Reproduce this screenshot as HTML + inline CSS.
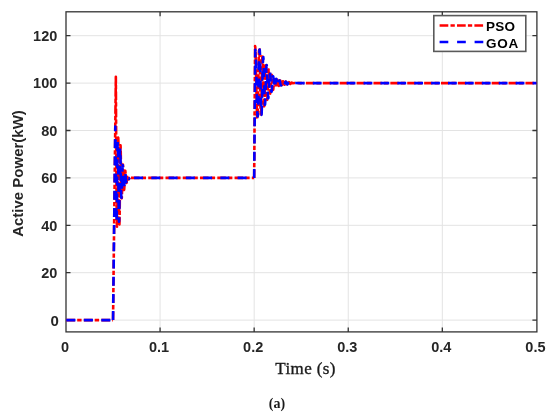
<!DOCTYPE html>
<html><head><meta charset="utf-8"><style>
html,body{margin:0;padding:0;background:#fff;}
body{width:550px;height:417px;overflow:hidden;}
svg{display:block;}
.ys{font-family:"Liberation Sans",Arial,sans-serif;font-weight:bold;font-size:14.5px;fill:#262626;text-anchor:end;}
.xs{font-family:"Liberation Sans",Arial,sans-serif;font-weight:bold;font-size:14.5px;fill:#262626;text-anchor:middle;}
.data path{fill:none;stroke-width:2.6;stroke-linejoin:round;}
</style></head><body>
<svg width="550" height="417" viewBox="0 0 550 417">
<defs><clipPath id="ax"><rect x="66.00" y="11.80" width="470.90" height="320.10"/></clipPath></defs>
<rect width="550" height="417" fill="#fff"/>
<path d="M160.08,11.80V331.90M254.16,11.80V331.90M348.24,11.80V331.90M442.32,11.80V331.90M66.00,320.10H536.90M66.00,272.70H536.90M66.00,225.30H536.90M66.00,177.90H536.90M66.00,130.50H536.90M66.00,83.10H536.90M66.00,35.70H536.90" stroke="#e3e3e3" stroke-width="1" fill="none"/>
<path d="M160.08,331.90v-4.5M160.08,11.80v4.5M254.16,331.90v-4.5M254.16,11.80v4.5M348.24,331.90v-4.5M348.24,11.80v4.5M442.32,331.90v-4.5M442.32,11.80v4.5M66.00,320.10h4.5M536.90,320.10h-4.5M66.00,272.70h4.5M536.90,272.70h-4.5M66.00,225.30h4.5M536.90,225.30h-4.5M66.00,177.90h4.5M536.90,177.90h-4.5M66.00,130.50h4.5M536.90,130.50h-4.5M66.00,83.10h4.5M536.90,83.10h-4.5M66.00,35.70h4.5M536.90,35.70h-4.5" stroke="#333" stroke-width="1.3" fill="none"/>
<rect x="66.00" y="11.80" width="470.90" height="320.10" stroke="#333" stroke-width="1.3" fill="none"/>
<g class="data" clip-path="url(#ax)">
<path d="M66.00,320.10H113.04" stroke="#ff0000" stroke-dasharray="8.65 2.24 4.38 2.24" stroke-dashoffset="17.20"/>
<path d="M113.04,320.10L115.85,76.80L115.86,79.55L115.96,98.41L116.03,112.96L116.11,126.82L116.18,139.97L116.26,152.45L116.33,164.28L116.41,175.45L116.47,184.64L116.54,193.21L116.60,199.97L116.65,206.14L116.71,211.62L116.76,215.62L116.80,219.06L116.85,221.89L116.90,224.09L116.94,225.63L116.99,226.49L117.04,226.66L117.09,226.14L117.13,224.94L117.18,223.08L117.23,220.58L117.27,217.50L117.33,213.07L117.39,207.96L117.45,201.27L117.54,191.85L117.71,172.03L117.78,163.63L117.85,156.88L117.90,151.69L117.96,147.19L118.01,144.03L118.05,141.46L118.10,139.53L118.15,138.25L118.20,137.66L118.24,137.75L118.29,138.53L118.34,139.99L118.38,142.09L118.43,144.81L118.48,148.11L118.53,152.74L118.59,158.01L118.66,164.82L118.76,176.43L118.89,191.58L118.97,199.76L119.03,206.32L119.09,211.32L119.15,215.63L119.19,218.63L119.24,221.03L119.29,222.81L119.33,223.93L119.38,224.38L119.43,224.15L119.48,223.24L119.52,221.68L119.57,219.48L119.62,216.68L119.67,212.59L119.73,207.80L119.79,201.46L119.87,193.49L120.06,172.21L120.13,164.07L120.19,158.41L120.24,154.67L120.28,151.54L120.33,149.04L120.38,147.16L120.43,145.92L120.47,145.30L120.52,145.28L120.57,145.82L120.62,147.16L120.68,149.19L120.75,152.30L120.82,156.65L120.91,162.91L121.10,176.36L121.20,182.66L121.27,187.14L121.35,190.97L121.41,193.71L121.48,195.83L121.54,197.29L121.61,198.10L121.68,198.27L121.76,198.03L121.84,197.15L121.91,195.57L122.00,193.10L122.10,189.27L122.39,176.54L122.50,172.40L122.59,169.23L122.67,167.00L122.75,165.61L122.82,164.79L122.90,164.57L122.98,165.02L123.07,166.16L123.16,168.13L123.28,171.26L123.58,181.22L123.69,184.58L123.79,187.07L123.89,188.71L123.97,189.60L124.06,189.92L124.15,189.60L124.24,188.62L124.35,186.89L124.49,183.71L124.76,176.63L124.88,174.10L124.98,172.33L125.08,171.18L125.19,170.67L125.29,170.79L125.41,171.65L125.55,173.40L125.91,179.19L126.06,181.23L126.19,182.45L126.32,183.05L126.47,183.00L126.62,182.25L126.85,180.12L127.13,177.25L127.30,176.02L127.47,175.41L127.65,175.44L127.90,176.35L128.30,178.48L128.54,179.28L128.79,179.41L129.20,178.51L129.60,177.50L129.94,177.23L129.97,177.25" stroke="#ff0000" stroke-dasharray="8.50 2.20 4.30 2.20" stroke-dashoffset="0.00"/>
<path d="M129.97,177.90H254.16" stroke="#ff0000" stroke-dasharray="8.53 2.21 4.32 2.21" stroke-dashoffset="16.29"/>
<path d="M254.16,177.90L255.10,46.13L255.20,46.51L255.31,47.54L255.41,49.23L255.51,51.57L255.62,54.53L255.73,58.42L255.85,63.34L255.99,69.76L256.18,79.19L256.46,93.38L256.60,100.30L256.72,105.75L256.82,109.79L256.93,113.20L257.02,115.66L257.11,117.46L257.20,118.45L257.28,118.84L257.37,118.59L257.45,117.72L257.54,116.21L257.62,114.10L257.72,111.07L257.81,107.39L257.91,102.67L258.04,96.37L258.21,86.23L258.43,73.61L258.56,66.41L258.67,61.30L258.76,57.24L258.85,54.14L258.93,51.66L259.01,49.84L259.09,48.82L259.17,48.40L259.24,48.57L259.32,49.34L259.39,50.71L259.48,52.93L259.56,55.83L259.65,59.78L259.76,64.89L259.88,71.72L260.21,91.87L260.33,98.95L260.44,104.34L260.52,108.18L260.60,111.42L260.68,113.71L260.75,115.24L260.82,116.15L260.90,116.40L260.97,115.99L261.05,114.93L261.12,113.27L261.21,110.70L261.29,107.48L261.39,103.24L261.50,97.42L261.84,78.03L261.96,71.44L262.06,66.48L262.16,62.61L262.24,59.77L262.33,57.60L262.40,56.27L262.48,55.54L262.55,55.41L262.63,55.88L262.71,57.09L262.80,59.00L262.88,61.53L262.98,64.99L263.09,69.86L263.28,79.03L263.46,88.41L263.59,94.00L263.69,98.14L263.78,101.27L263.87,103.50L263.95,105.10L264.04,106.06L264.12,106.34L264.21,105.94L264.29,104.89L264.38,103.22L264.47,100.72L264.57,97.30L264.71,92.16L265.01,79.19L265.14,73.93L265.24,70.33L265.34,67.62L265.43,65.52L265.52,64.23L265.60,63.52L265.68,63.41L265.77,63.90L265.86,65.11L265.96,66.97L266.06,69.67L266.18,73.57L266.55,87.13L266.68,91.60L266.79,94.84L266.90,97.19L266.99,98.72L267.09,99.63L267.18,99.88L267.27,99.49L267.37,98.47L267.47,96.69L267.59,94.07L267.73,90.05L268.04,80.07L268.17,76.24L268.28,73.49L268.38,71.53L268.49,70.19L268.59,69.51L268.70,69.49L268.80,70.12L268.91,71.48L269.03,73.63L269.19,77.22L269.51,85.33L269.66,88.72L269.80,91.09L269.92,92.65L270.03,93.47L270.14,93.66L270.27,93.17L270.40,91.92L270.55,89.73L271.01,80.85L271.17,78.12L271.31,76.29L271.44,75.19L271.57,74.76L271.71,75.00L271.85,75.95L272.01,77.76L272.49,85.21L272.66,87.48L272.81,88.94L272.95,89.70L273.09,89.84L273.24,89.29L273.41,87.95L273.65,85.08L273.95,81.18L274.14,79.21L274.30,78.10L274.46,77.63L274.62,77.82L274.80,78.75L275.04,80.85L275.39,84.59L275.60,86.29L275.78,87.18L275.96,87.43L276.15,86.98L276.37,85.67L276.85,81.80L277.08,80.41L277.28,79.78L277.47,79.79L277.70,80.51L278.35,84.49L278.58,85.55L278.80,85.94L279.03,85.68L279.30,84.59L279.79,81.85L280.04,80.88L280.28,80.60L280.52,81.00L280.91,82.66L281.28,84.46L281.54,85.17L281.78,85.25L282.06,84.61L282.68,82.04L282.96,81.29L283.22,81.22L283.53,81.90L284.11,84.02L284.41,84.68L284.69,84.68L285.06,83.85L285.56,82.24L285.88,81.71L286.20,81.86L287.01,83.88L287.35,84.30L287.71,84.05L288.44,82.43L288.81,82.07L289.21,82.41L289.89,83.71L290.28,83.98L290.76,83.51L291.27,82.73L291.78,82.64L292.74,83.27L294.52,83.02L300.25,83.10L303.08,83.10" stroke="#ff0000" stroke-dasharray="8.50 2.20 4.30 2.20" stroke-dashoffset="0.00"/>
<path d="M303.08,83.10H536.40" stroke="#ff0000" stroke-dasharray="8.35 2.16 4.22 2.16" stroke-dashoffset="14.08"/>
<path d="M66.00,320.10H113.04" stroke="#0000ff" stroke-dasharray="9.16 8.34" stroke-dashoffset="17.20"/>
<path d="M113.04,320.10L115.29,126.57L115.30,129.32L115.34,130.81L115.39,132.88L115.45,136.08L115.50,139.99L115.56,144.53L115.63,150.49L115.70,158.00L115.82,170.19L115.96,185.79L116.04,194.71L116.11,201.14L116.17,206.94L116.23,211.32L116.29,215.07L116.34,218.11L116.39,220.07L116.44,221.49L116.48,222.33L116.53,222.60L116.58,222.30L116.62,221.42L116.67,219.98L116.73,217.55L116.78,214.40L116.84,210.58L116.91,205.41L116.98,198.70L117.08,189.51L117.25,172.23L117.33,164.05L117.40,158.23L117.46,153.06L117.52,149.26L117.57,146.12L117.63,143.70L117.68,142.27L117.73,141.40L117.77,141.10L117.82,141.38L117.87,142.22L117.91,143.63L117.97,146.02L118.03,149.13L118.08,152.91L118.15,158.04L118.22,164.70L118.32,173.85L118.49,191.04L118.57,199.16L118.64,204.94L118.69,209.37L118.75,213.23L118.81,216.45L118.86,218.94L118.91,220.43L118.96,221.37L119.00,221.74L119.05,221.54L119.10,220.77L119.15,219.43L119.20,217.12L119.26,214.08L119.32,210.37L119.38,205.30L119.46,198.70L119.55,189.60L119.72,172.42L119.80,164.25L119.85,160.37L119.91,156.42L119.96,153.20L120.02,150.73L120.08,149.03L120.13,148.08L120.19,147.85L120.25,148.32L120.30,149.44L120.37,151.47L120.43,154.18L120.51,157.97L120.61,164.01L120.82,177.09L120.91,182.66L121.00,187.11L121.07,190.49L121.15,193.23L121.22,195.28L121.30,196.61L121.38,197.61L121.46,197.87L121.54,197.45L121.61,196.41L121.70,194.54L121.79,191.74L121.91,187.28L122.17,176.92L122.28,172.74L122.37,169.79L122.46,167.69L122.54,166.18L122.63,165.32L122.71,165.12L122.80,165.57L122.89,166.77L122.99,168.82L123.12,172.00L123.42,181.17L123.54,184.50L123.64,186.79L123.75,188.44L123.84,189.32L123.93,189.58L124.03,189.23L124.13,188.18L124.25,186.20L124.41,182.76L124.63,177.59L124.76,174.92L124.88,173.19L124.99,172.06L125.10,171.57L125.22,171.72L125.36,172.57L125.53,174.53L125.85,178.77L126.02,180.60L126.17,181.66L126.32,182.11L126.48,181.94L126.68,180.95L127.10,177.82L127.32,176.66L127.53,176.15L127.76,176.29L128.42,178.40L128.72,178.92L129.07,178.77L129.65,177.79L129.97,177.61" stroke="#0000ff" stroke-dasharray="9.00 8.20" stroke-dashoffset="0.00"/>
<path d="M129.97,177.90H254.16" stroke="#0000ff" stroke-dasharray="9.03 8.23" stroke-dashoffset="13.19"/>
<path d="M254.16,177.90L255.29,49.92L255.40,50.22L255.51,51.15L255.63,52.71L255.74,54.90L255.86,57.95L255.99,61.65L256.12,66.30L256.28,72.68L256.75,93.58L256.91,100.31L257.04,105.28L257.15,108.98L257.26,111.81L257.36,114.02L257.45,115.44L257.55,116.27L257.64,116.46L257.74,116.02L257.83,114.93L257.92,113.21L258.02,110.87L258.12,107.64L258.23,103.40L258.36,98.11L258.51,90.82L258.84,73.80L258.98,66.90L259.09,61.92L259.19,57.93L259.29,54.89L259.38,52.47L259.47,50.89L259.55,49.91L259.64,49.56L259.72,49.84L259.80,50.77L259.89,52.33L259.97,54.49L260.07,57.55L260.17,61.66L260.28,66.88L260.42,73.71L260.75,92.18L260.88,99.15L260.96,103.19L261.06,106.99L261.14,109.83L261.23,112.06L261.31,113.65L261.39,114.56L261.48,114.78L261.56,114.32L261.65,113.19L261.73,111.43L261.83,108.79L261.93,105.15L262.04,100.44L262.19,93.77L262.48,78.99L262.61,72.72L262.72,67.91L262.82,64.12L262.92,61.31L263.01,59.16L263.10,57.85L263.18,57.14L263.27,57.04L263.35,57.55L263.45,58.81L263.54,60.75L263.64,63.58L263.76,67.38L263.90,72.91L264.23,87.11L264.37,92.77L264.48,96.73L264.58,99.78L264.68,101.98L264.77,103.56L264.87,104.51L264.96,104.78L265.05,104.39L265.15,103.37L265.25,101.55L265.36,98.84L265.49,95.19L265.66,89.30L265.92,79.55L266.06,74.74L266.18,71.14L266.30,68.45L266.40,66.62L266.50,65.44L266.60,64.98L266.70,65.14L266.80,65.98L266.91,67.46L267.02,69.71L267.15,73.04L267.35,78.96L267.59,86.66L267.75,90.93L267.87,93.85L267.98,95.97L268.09,97.44L268.19,98.12L268.29,98.20L268.40,97.61L268.52,96.37L268.65,94.20L268.81,90.77L269.19,81.10L269.35,77.48L269.50,74.86L269.62,73.18L269.74,72.12L269.86,71.71L269.98,71.95L270.12,72.89L270.26,74.57L270.44,77.47L270.83,84.99L271.01,87.97L271.16,89.92L271.30,91.16L271.44,91.75L271.58,91.67L271.73,90.88L271.90,89.25L272.13,86.22L272.47,81.14L272.66,78.74L272.82,77.25L272.97,76.43L273.12,76.21L273.28,76.63L273.46,77.82L273.69,80.22L274.08,84.82L274.28,86.85L274.46,88.03L274.63,88.54L274.81,88.42L275.00,87.60L275.24,85.71L275.67,81.74L275.89,80.05L276.09,79.14L276.29,78.88L276.49,79.29L276.75,80.58L277.28,84.31L277.52,85.63L277.75,86.26L277.97,86.24L278.24,85.43L278.92,81.77L279.19,80.73L279.43,80.36L279.68,80.66L280.01,81.88L280.51,84.31L280.79,85.23L281.06,85.47L281.34,85.02L282.11,81.96L282.41,81.18L282.69,81.08L283.01,81.70L283.67,84.05L283.99,84.76L284.29,84.80L284.67,84.06L285.27,82.23L285.61,81.66L285.95,81.75L286.88,83.91L287.25,84.34L287.63,84.09L288.45,82.42L288.85,82.05L289.28,82.37L290.04,83.70L290.47,83.98L291.01,83.49L291.57,82.75L292.16,82.70L293.20,83.25L295.25,83.04L300.44,83.10L303.08,83.10" stroke="#0000ff" stroke-dasharray="9.00 8.20" stroke-dashoffset="0.00"/>
<path d="M303.08,83.10H536.40" stroke="#0000ff" stroke-dasharray="8.84 8.06" stroke-dashoffset="7.18"/>
</g>
<g class="ys"><text x="57.3" y="278.00">20</text><text x="57.3" y="230.60">40</text><text x="57.3" y="183.20">60</text><text x="57.3" y="135.80">80</text><text x="57.3" y="88.40">100</text><text x="57.3" y="41.00">120</text><text x="58.8" y="326.20" style="font-size:15px">0</text></g>
<g class="xs"><text x="65.00" y="352">0</text><text x="159.08" y="352">0.1</text><text x="253.16" y="352">0.2</text><text x="347.24" y="352">0.3</text><text x="441.32" y="352">0.4</text><text x="535.40" y="352">0.5</text></g>

<text x="305.6" y="373.5" text-anchor="middle" font-family="Liberation Serif,serif" font-size="17px" fill="#1a1a1a" stroke="#1a1a1a" stroke-width="0.35" letter-spacing="0.4">Time (s)</text>
<text x="277" y="407.9" text-anchor="middle" font-family="Liberation Serif,serif" font-weight="bold" font-size="14px" fill="#1a1a1a">(a)</text>
<text transform="translate(22.7,173.5) rotate(-90)" text-anchor="middle" font-family="Liberation Sans,Arial,sans-serif" font-weight="bold" font-size="15px" fill="#262626">Active Power(kW)</text>
<g>
<rect x="433.8" y="15.6" width="92" height="35.8" fill="#fff" stroke="#5a5a5a" stroke-width="1.6"/>
<path d="M439.6,25.5H483.3" stroke="#ff0000" stroke-width="2.6" stroke-dasharray="8.7 2.2 4.3 2.2"/>
<path d="M439.6,42H483.3" stroke="#0000ff" stroke-width="2.6" stroke-dasharray="8.7 8.8"/>
<text x="486" y="31.2" font-family="Liberation Sans,Arial,sans-serif" font-weight="bold" font-size="13.5px" fill="#000" letter-spacing="0.3">PSO</text>
<text x="486" y="47.6" font-family="Liberation Sans,Arial,sans-serif" font-weight="bold" font-size="13.5px" fill="#000" letter-spacing="0.8">GOA</text>
</g>
</svg>
</body></html>
